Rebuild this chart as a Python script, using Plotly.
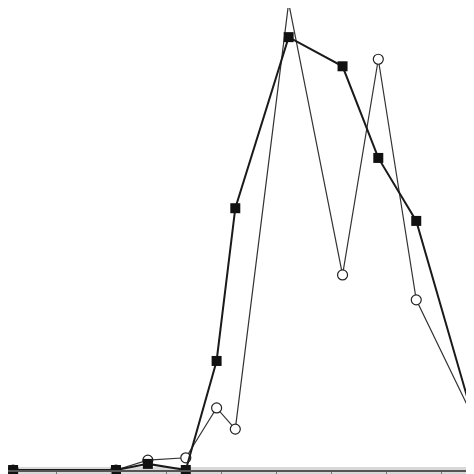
"""
Two-series line chart (filled squares vs open circles) on a bare x axis
"""
import plotly.graph_objects as go

# x positions (axis units, ticks every 1)
x_vals = [0.22, 2.09, 2.67, 3.36, 3.92, 4.26, 5.23, 6.21, 6.86, 7.55, 8.58]

# series values (0-100 scale)
squares = [0, 0, 1.3, 0, 23.2, 55.7, 92.1, 85.9, 66.4, 53.0, 11.3]
circles = [0, 0, 2.1, 2.6, 13.2, 8.7, 99.4, 41.5, 87.4, 36.2, 11.3]

fig = go.Figure()

# open circles, thin line
fig.add_trace(go.Scatter(
    x=x_vals,
    y=circles,
    mode='lines+markers',
    line=dict(color='#333333', width=1.2),
    marker=dict(symbol='circle', size=10, color='white',
                line=dict(color='#222222', width=1.2)),
    cliponaxis=False,
))

# filled squares, heavier line, drawn on top
fig.add_trace(go.Scatter(
    x=x_vals,
    y=squares,
    mode='lines+markers',
    line=dict(color='#1a1a1a', width=2),
    marker=dict(symbol='square', size=10, color='#111111'),
    cliponaxis=False,
))

# light grey strip under the axis (scanned look)
fig.add_shape(type='rect', xref='paper', yref='paper',
              x0=0, x1=1, y0=-0.0087, y1=0.0065,
              fillcolor='#d9d9d9', line=dict(width=0), layer='below')

# page body has an 8px margin, so the plot is laid out shifted by 8px
fig.update_layout(
    width=466,
    height=474,
    showlegend=False,
    plot_bgcolor='white',
    paper_bgcolor='white',
    margin=dict(l=0, r=0, t=0, b=12),
    xaxis=dict(
        range=[7 / 55, 473 / 55],
        dtick=1,
        tick0=0,
        showticklabels=False,
        ticks='outside',
        ticklen=4,
        tickcolor='#777777',
        showgrid=False,
        zeroline=False,
        showline=True,
        linecolor='#555555',
        linewidth=1.5,
    ),
    yaxis=dict(
        range=[0, 98.3],
        visible=False,
        showgrid=False,
        zeroline=False,
    ),
)

fig.write_html("out.html")
